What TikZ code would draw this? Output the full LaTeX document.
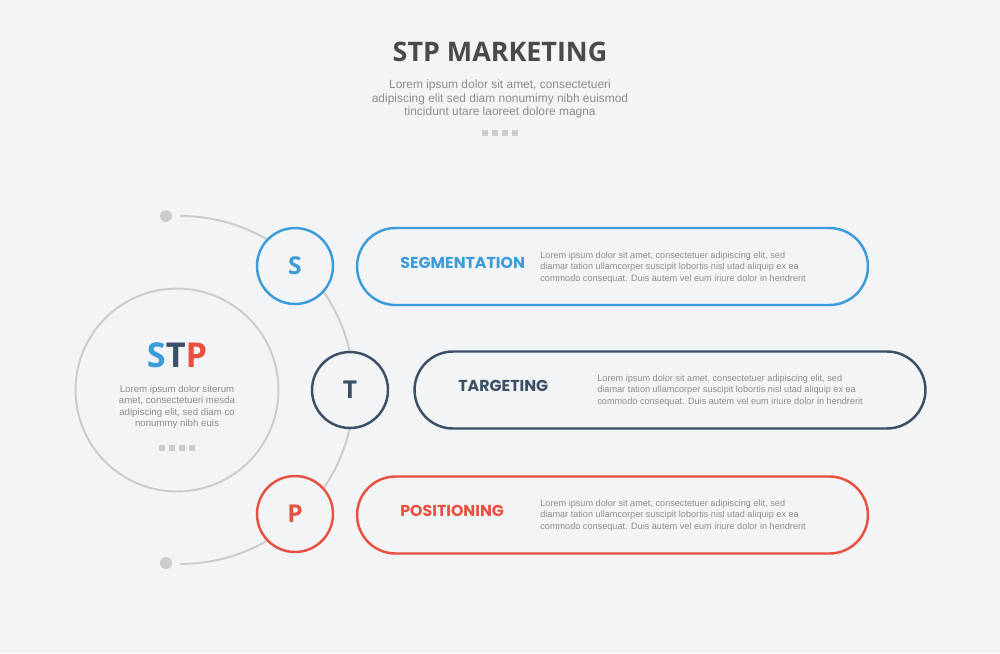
\documentclass[tikz,border=0pt]{standalone}
\usepackage{fontspec}
\setmainfont{Liberation Sans}
\newfontfamily\headfont{Open Sans}
\newfontfamily\lblfont{Poppins}
\definecolor{bgcol}{HTML}{F3F4F6}
\definecolor{segblue}{HTML}{3C9BD9}
\definecolor{tarnavy}{HTML}{3B4F66}
\definecolor{posred}{HTML}{E8503F}
\definecolor{ringgray}{HTML}{CCCCCC}
\definecolor{titlegray}{HTML}{4A4A4A}
\definecolor{textgray}{HTML}{8C8C8C}
\begin{document}
\begin{tikzpicture}[x=0.02cm, y=-0.02cm,
    letter/.style = {draw, circle, line width=1.4pt, minimum size=1.52cm, fill=bgcol,
      font=\headfont\bfseries\fontsize{14}{14}\selectfont},
    pill/.style = {draw, rectangle, rounded corners=0.77cm, line width=1.4pt,
      minimum width=10.22cm, minimum height=1.54cm},
    lbl/.style = {anchor=west, inner sep=0pt, font=\lblfont\bfseries\fontsize{9}{9}\selectfont},
    body/.style = {anchor=west, align=left, text=textgray, inner sep=0pt,
      font=\fontsize{5.2}{6.5}\selectfont},
    sq/.style = {fill=ringgray, minimum size=0.11cm, inner sep=0pt},
    dot/.style = {fill=ringgray, circle, minimum size=0.24cm, inner sep=0pt}]
        \useasboundingbox[fill=bgcol] (0,0) rectangle (1000,653);

        \node[text=titlegray, font=\headfont\bfseries\fontsize{15.3}{15}\selectfont] (title) at (500,52) {STP MARKETING};
        \node[align=center, text=textgray, font=\fontsize{6.8}{7.9}\selectfont] (sub) at (500,99)
          {Lorem ipsum dolor sit amet, consectetueri\\adipiscing elit sed diam nonumimy nibh euismod\\tincidunt utare laoreet dolore magna};
        \foreach \i in {0,...,3}
          \node[sq] (tsq\i) at (485+10*\i,133) {};

        \node[dot] (dtop) at (166,216) {};
        \node[dot] (dbot) at (166,563) {};
        \draw[ringgray, line width=1.1pt] (dtop) ++(14,0) arc[start angle=-90, end angle=90, radius=174];

        \node[draw=ringgray, circle, line width=1.1pt, minimum size=4.06cm] (stp) at (177,390) {};
        \node[font=\headfont\bfseries\fontsize{19.5}{20}\selectfont] (stplbl) at (177,355)
          {\textcolor{segblue}{S}\textcolor{tarnavy}{T}\textcolor{posred}{P}};
        \node[align=center, text=textgray, font=\fontsize{5.5}{6.4}\selectfont] (stptxt) at (177,407)
          {Lorem ipsum dolor siterum\\amet, consectetueri mesda\\adipiscing elit, sed diam co\\nonummy nibh euis};
        \foreach \i in {0,...,3}
          \node[sq] (csq\i) at (162+10*\i,448) {};

        \node[letter, draw=segblue, text=segblue] (S) at (295,266) {S};
        \node[letter, draw=tarnavy, text=tarnavy] (T) at (350,390) {T};
        \node[letter, draw=posred, text=posred] (P) at (295,514) {P};

        \node[pill, draw=segblue] (segbox) at (612.5,266.5) {};
        \node[pill, draw=tarnavy] (tarbox) at (670,390) {};
        \node[pill, draw=posred] (posbox) at (612.5,515) {};

        \node[lbl, text=segblue] (seglbl) at (400,263) {SEGMENTATION};
        \node[lbl, text=tarnavy] (tarlbl) at (458,386) {TARGETING};
        \node[lbl, text=posred] (poslbl) at (400,511) {POSITIONING};

        \node[body] (segtxt) at (540,267.5) {Lorem ipsum dolor sit amet, consectetuer adipiscing elit, sed\\diamar tation ullamcorper suscipit lobortis nisl utad aliquip ex ea\\commodo consequat. Duis autem vel eum iriure dolor in hendrerit};
        \node[body] (tartxt) at (597,390.5) {Lorem ipsum dolor sit amet, consectetuer adipiscing elit, sed\\diamar tation ullamcorper suscipit lobortis nisl utad aliquip ex ea\\commodo consequat. Duis autem vel eum iriure dolor in hendrerit};
        \node[body] (postxt) at (540,515.5) {Lorem ipsum dolor sit amet, consectetuer adipiscing elit, sed\\diamar tation ullamcorper suscipit lobortis nisl utad aliquip ex ea\\commodo consequat. Duis autem vel eum iriure dolor in hendrerit};
\end{tikzpicture}
\end{document}
